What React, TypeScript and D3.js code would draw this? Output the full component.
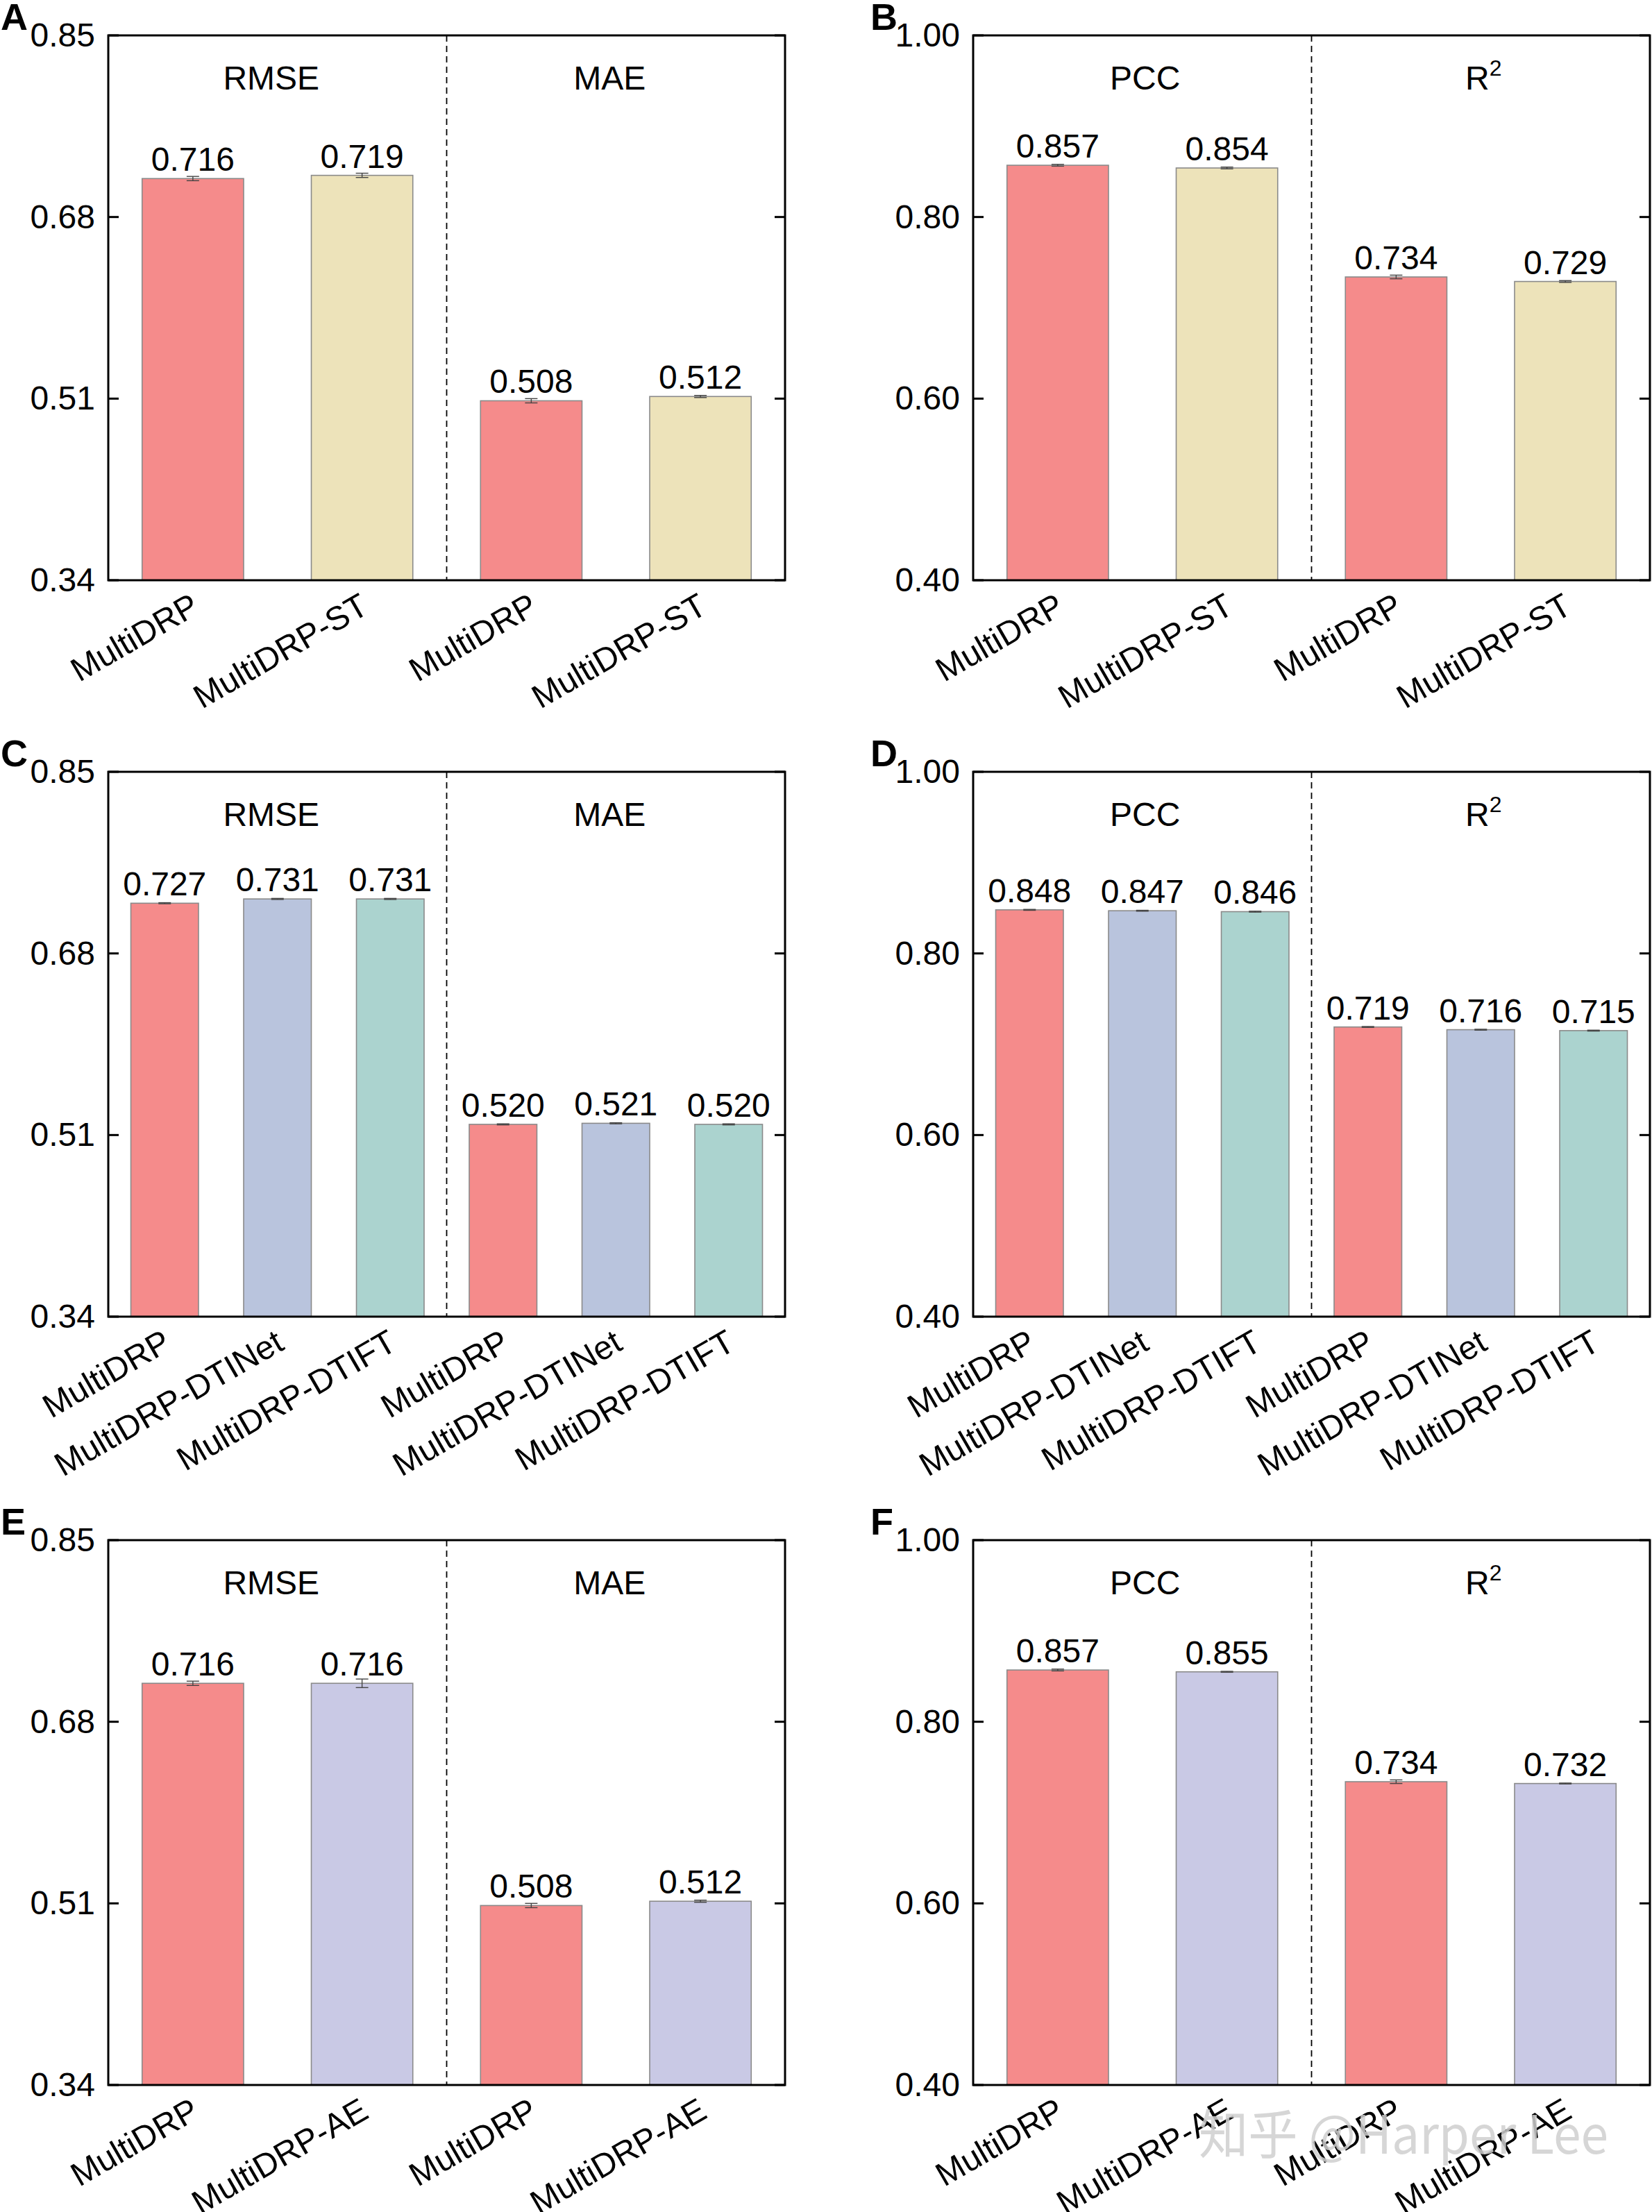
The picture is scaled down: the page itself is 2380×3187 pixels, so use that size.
import React from "react";
import * as d3 from "d3";

// ---------- data ----------
const modelsST = ["MultiDRP", "MultiDRP-ST"];
const modelsDT = ["MultiDRP", "MultiDRP-DTINet", "MultiDRP-DTIFT"];
const modelsAE = ["MultiDRP", "MultiDRP-AE"];

const errorMetrics = ["RMSE", "MAE"];
const corrMetrics = ["PCC", "R2"];

const errorTicks = [0.34, 0.51, 0.68, 0.85];
const corrTicks = [0.4, 0.6, 0.8, 1.0];

// A
const valuesA = [0.716, 0.719, 0.508, 0.512];
const sdA = [0.002, 0.002, 0.002, 0.001];
// B
const valuesB = [0.857, 0.854, 0.734, 0.729];
const sdB = [0.001, 0.001, 0.002, 0.001];
// C
const valuesC = [0.727, 0.731, 0.731, 0.52, 0.521, 0.52];
const sdC = [0.0005, 0.0005, 0.0005, 0.0005, 0.0005, 0.0005];
// D
const valuesD = [0.848, 0.847, 0.846, 0.719, 0.716, 0.715];
const sdD = [0.0005, 0.0005, 0.0005, 0.0005, 0.0005, 0.0005];
// E
const valuesE = [0.716, 0.716, 0.508, 0.512];
const sdE = [0.002, 0.004, 0.002, 0.001];
// F
const valuesF = [0.857, 0.855, 0.734, 0.732];
const sdF = [0.001, 0.0005, 0.002, 0.0005];

const colorsST = ["#F58B8B", "#EDE3BA"];
const colorsDT = ["#F58B8B", "#B9C4DD", "#ABD3CF"];
const colorsAE = ["#F58B8B", "#C9C9E5"];

const panelLetters = ["A", "B", "C", "D", "E", "F"];

// ---------- layout ----------
const W = 2380;
const H = 3187;
const colX = [156, 1402];
const rowY = [51, 1112, 2219];
const PW = 975;
const PH = 785;
const FONT = "'Liberation Sans', Arial, Helvetica, sans-serif";

type PanelProps = {
  letter: string;
  x0: number;
  y0: number;
  models: string[];
  metrics: string[];
  values: number[];
  sds: number[];
  colors: string[];
  ticks: number[];
  headShift: number;
};

function Heading({ text, x, y }: { text: string; x: number; y: number }) {
  if (text === "R2") {
    return (
      <text x={x} y={y} textAnchor="middle" fontSize={48} fontFamily={FONT}>
        R
        <tspan fontSize={32} dy={-20}>
          2
        </tspan>
      </text>
    );
  }
  return (
    <text x={x} y={y} textAnchor="middle" fontSize={48} fontFamily={FONT}>
      {text}
    </text>
  );
}

function Panel(p: PanelProps) {
  const { letter, x0, y0, models, metrics, values, sds, colors, ticks, headShift } = p;
  const cats: string[] = [];
  metrics.forEach((m) => models.forEach((md, i) => cats.push(`${m}|${i}`)));
  const x = d3
    .scaleBand<string>()
    .domain(cats)
    .range([x0, x0 + PW])
    .paddingInner(0.4)
    .paddingOuter(0.2);
  const y = d3
    .scaleLinear()
    .domain([ticks[0], ticks[ticks.length - 1]])
    .range([y0 + PH, y0]);
  const bottom = y0 + PH;
  const midX = x0 + PW / 2;
  const bw = x.bandwidth();
  const fmt = d3.format(".3f");
  const tfmt = d3.format(".2f");
  return (
    <g>
      {/* panel letter */}
      <text
        x={letter === "A" || letter === "C" || letter === "E" ? 1 : 1254}
        y={y0 - 8}
        fontSize={54}
        fontWeight="bold"
        fontFamily={FONT}
      >
        {letter}
      </text>
      {/* bars */}
      {cats.map((c, i) => {
        const mi = i % models.length;
        const bx = x(c) as number;
        const by = y(values[i]);
        const cx = bx + bw / 2;
        const e1 = y(values[i] + sds[i]);
        const e2 = y(values[i] - sds[i]);
        return (
          <g key={c}>
            <rect
              x={bx}
              y={by}
              width={bw}
              height={bottom - by}
              fill={colors[mi]}
              stroke="#8a8a8a"
              strokeWidth={1.6}
            />
            <line x1={cx} x2={cx} y1={e1} y2={e2} stroke="#444" strokeWidth={1.4} />
            <line x1={cx - 9} x2={cx + 9} y1={e1} y2={e1} stroke="#444" strokeWidth={1.4} />
            <line x1={cx - 9} x2={cx + 9} y1={e2} y2={e2} stroke="#444" strokeWidth={1.4} />
            <text
              x={cx}
              y={by - 11}
              textAnchor="middle"
              fontSize={48}
              fontFamily={FONT}
            >
              {fmt(values[i])}
            </text>
            <text
              transform={`translate(${cx + 12},${bottom + 46}) rotate(-30)`}
              textAnchor="end"
              fontSize={48}
              fontFamily={FONT}
            >
              {models[mi]}
            </text>
          </g>
        );
      })}
      {/* headings */}
      {metrics.map((m, k) => (
        <Heading key={m} text={m} x={x0 + (PW / 4) * (1 + 2 * k) + headShift} y={y0 + 78} />
      ))}
      {/* divider */}
      <line
        x1={midX}
        x2={midX}
        y1={y0}
        y2={bottom}
        stroke="#000"
        strokeWidth={1.8}
        strokeDasharray="9,6"
      />
      {/* ticks */}
      {ticks.map((t) => (
        <g key={t}>
          <line x1={x0} x2={x0 + 15} y1={y(t)} y2={y(t)} stroke="#000" strokeWidth={3} />
          <line x1={x0 + PW - 15} x2={x0 + PW} y1={y(t)} y2={y(t)} stroke="#000" strokeWidth={3} />
          <text
            x={x0 - 19}
            y={y(t) + 16}
            textAnchor="end"
            fontSize={48}
            fontFamily={FONT}
          >
            {tfmt(t)}
          </text>
        </g>
      ))}
      {/* frame */}
      <rect x={x0} y={y0} width={PW} height={PH} fill="none" stroke="#000" strokeWidth={3} />
    </g>
  );
}

export default function App() {
  const panels = [
    { models: modelsST, metrics: errorMetrics, values: valuesA, sds: sdA, colors: colorsST, ticks: errorTicks },
    { models: modelsST, metrics: corrMetrics, values: valuesB, sds: sdB, colors: colorsST, ticks: corrTicks },
    { models: modelsDT, metrics: errorMetrics, values: valuesC, sds: sdC, colors: colorsDT, ticks: errorTicks },
    { models: modelsDT, metrics: corrMetrics, values: valuesD, sds: sdD, colors: colorsDT, ticks: corrTicks },
    { models: modelsAE, metrics: errorMetrics, values: valuesE, sds: sdE, colors: colorsAE, ticks: errorTicks },
    { models: modelsAE, metrics: corrMetrics, values: valuesF, sds: sdF, colors: colorsAE, ticks: corrTicks },
  ];
  return (
    <svg
      width={W}
      height={H}
      viewBox={`0 0 ${W} ${H}`}
      style={{ position: "absolute", left: 0, top: 0, background: "#fff" }}
    >
      <rect x={0} y={0} width={W} height={H} fill="#fff" />
      {panels.map((pp, i) => (
        <Panel
          key={i}
          letter={panelLetters[i]}
          x0={colX[i % 2]}
          y0={rowY[Math.floor(i / 2)]}
          headShift={i % 2 === 0 ? -9 : 4}
          {...pp}
        />
      ))}
      <text
        x={1727}
        y={3103}
        fontSize={76}
        fill="#cfcfcf"
        fillOpacity={0.85}
        fontFamily="'Noto Sans CJK SC', 'Noto Sans', sans-serif"
        textLength={590}
        lengthAdjust="spacingAndGlyphs"
      >
        知乎 @Harper Lee
      </text>
    </svg>
  );
}
